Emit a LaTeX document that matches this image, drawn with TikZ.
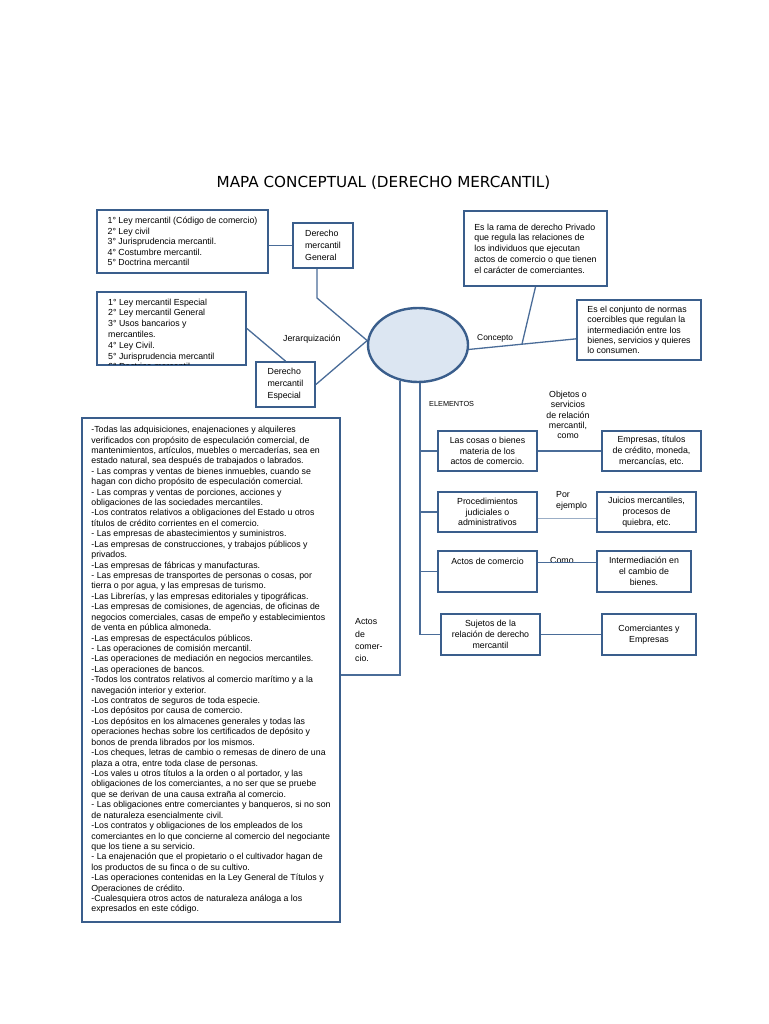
\documentclass[tikz,border=0pt]{standalone}
\usepackage{fontspec}
\setmainfont{Liberation Sans}
\newfontfamily\titulofont{DejaVu Sans}
\usepackage{color}
\usepackage{tikz}
\usetikzlibrary{shapes.geometric}

\definecolor{borde}{HTML}{3A5E8C}
\definecolor{linea}{HTML}{4A6C98}
\definecolor{relleno}{HTML}{DCE6F2}

\tikzset{
  caja/.style={draw=borde, line width=1.8pt, rectangle, fill=white, inner sep=0pt, font=\fontsize{8.8}{10.8}\selectfont},
  conector/.style={draw=linea, line width=1.3pt},
  etiqueta/.style={inner sep=0pt, font=\fontsize{8.8}{10.8}\selectfont}
}

\begin{document}
\begin{tikzpicture}[x=1pt, y=-1pt]
\useasboundingbox (0,0) rectangle (768,1024);

\node[anchor=base, font=\titulofont\fontsize{15.2}{18}\selectfont] (titulo) at (383.5,188) {MAPA CONCEPTUAL (DERECHO MERCANTIL)};

\node[caja, align=left, minimum width=171, minimum height=63, font=\fontsize{8.8}{10.6}\selectfont] (leyesgen) at (182.5,241.5) {1° Ley mercantil (Código de comercio)\\2° Ley civil\\3° Jurisprudencia mercantil.\\4° Costumbre mercantil.\\5° Doctrina mercantil};
\node[caja, align=left, minimum width=60, minimum height=45, font=\fontsize{8.8}{12}\selectfont] (dmgeneral) at (323,245.5) {Derecho\\mercantil\\General};

\node[caja, minimum width=149, minimum height=73] (leyesesp) at (171.5,328.5) {};
\begin{scope}
\clip (97.9,292.9) rectangle (245.1,364.1);
\node[etiqueta, anchor=north west, align=left] (leyesesptxt) at (108,298.5) {1° Ley mercantil Especial\\2° Ley mercantil General\\3° Usos bancarios y\\mercantiles.\\4° Ley Civil.\\5° Jurisprudencia mercantil\\6° Doctrina mercantil};
\end{scope}
\node[caja, align=left, minimum width=59, minimum height=45, font=\fontsize{8.8}{12}\selectfont] (dmespecial) at (285.5,384.5) {Derecho\\mercantil\\Especial};
\node[etiqueta, anchor=base west] (jerarquia) at (283,341) {Jerarquización};

\node[ellipse, draw=borde, line width=2.4pt, fill=relleno, minimum width=100, minimum height=74, inner sep=0pt] (elipse) at (418,345) {};

\node[caja, align=left, minimum width=143, minimum height=75] (concepto1) at (535.5,248.5) {Es la rama de derecho Privado\\que regula las relaciones de\\los individuos que ejecutan\\actos de comercio o que tienen\\el carácter de comerciantes.};
\node[caja, align=left, minimum width=124, minimum height=60, font=\fontsize{8.8}{10.2}\selectfont] (concepto2) at (639,330) {Es el conjunto de normas\\coercibles que regulan la\\intermediación entre los\\bienes, servicios y quieres\\lo consumen.};
\node[etiqueta, anchor=base west, font=\fontsize{8.4}{10}\selectfont] (concepto) at (477,340) {Concepto};

\node[caja, align=left, minimum width=258, minimum height=504, font=\fontsize{8.8}{10.42}\selectfont] (actos) at (211,670) {-Todas las adquisiciones, enajenaciones y alquileres\\verificados con propósito de especulación comercial, de\\mantenimientos, artículos, muebles o mercaderías, sea en\\estado natural, sea después de trabajados o labrados.\\- Las compras y ventas de bienes inmuebles, cuando se\\hagan con dicho propósito de especulación comercial.\\- Las compras y ventas de porciones, acciones y\\obligaciones de las sociedades mercantiles.\\-Los contratos relativos a obligaciones del Estado u otros\\títulos de crédito corrientes en el comercio.\\- Las empresas de abastecimientos y suministros.\\-Las empresas de construcciones, y trabajos públicos y\\privados.\\-Las empresas de fábricas y manufacturas.\\- Las empresas de transportes de personas o cosas, por\\tierra o por agua, y las empresas de turismo.\\-Las Librerías, y las empresas editoriales y tipográficas.\\-Las empresas de comisiones, de agencias, de oficinas de\\negocios comerciales, casas de empeño y establecimientos\\de venta en pública almoneda.\\-Las empresas de espectáculos públicos.\\- Las operaciones de comisión mercantil.\\-Las operaciones de mediación en negocios mercantiles.\\-Las operaciones de bancos.\\-Todos los contratos relativos al comercio marítimo y a la\\navegación interior y exterior.\\-Los contratos de seguros de toda especie.\\-Los depósitos por causa de comercio.\\-Los depósitos en los almacenes generales y todas las\\operaciones hechas sobre los certificados de depósito y\\bonos de prenda librados por los mismos.\\-Los cheques, letras de cambio o remesas de dinero de una\\plaza a otra, entre toda clase de personas.\\-Los vales u otros títulos a la orden o al portador, y las\\obligaciones de los comerciantes, a no ser que se pruebe\\que se derivan de una causa extraña al comercio.\\- Las obligaciones entre comerciantes y banqueros, si no son\\de naturaleza esencialmente civil.\\-Los contratos y obligaciones de los empleados de los\\comerciantes en lo que concierne al comercio del negociante\\que los tiene a su servicio.\\- La enajenación que el propietario o el cultivador hagan de\\los productos de su finca o de su cultivo.\\-Las operaciones contenidas en la Ley General de Títulos y\\Operaciones de crédito.\\-Cualesquiera otros actos de naturaleza análoga a los\\expresados en este código.};
\node[etiqueta, anchor=north west, align=left, font=\fontsize{8.8}{12.4}\selectfont] (actoslbl) at (355,618.5) {Actos\\de\\comer-\\cio.};

\node[etiqueta, anchor=base west, font=\fontsize{7.3}{9}\selectfont] (elementos) at (429,406.5) {ELEMENTOS};

% elementos
\node[caja, align=center, minimum width=99, minimum height=40] (cosas) at (487.5,451) {Las cosas o bienes\\materia de los\\actos de comercio.};
\node[caja, align=center, minimum width=99, minimum height=40] (proced) at (487.5,512) {Procedimientos\\judiciales o\\administrativos};
\node[caja, align=center, minimum width=99, text height=13.9, text depth=27.1] (actoscom) at (487.5,571.5) {Actos de comercio};
\node[caja, align=center, minimum width=99, minimum height=41] (sujetos) at (490.5,634.5) {Sujetos de la\\relación de derecho\\mercantil};

\node[caja, align=center, minimum width=99, minimum height=40] (empresas) at (651.5,451) {Empresas, títulos\\de crédito, moneda,\\mercancías, etc.};
\node[caja, align=center, minimum width=99, minimum height=40] (juicios) at (646.5,512) {Juicios mercantiles,\\procesos de\\quiebra, etc.};
\node[caja, align=center, minimum width=94, minimum height=41] (intermed) at (644,571.5) {Intermediación en\\el cambio de\\bienes.};
\node[caja, align=center, minimum width=94, minimum height=41] (comerciantes) at (649,634.5) {Comerciantes y\\Empresas};

\node[etiqueta, align=center, font=\fontsize{8.8}{10.2}\selectfont] (objetos) at (568,415) {Objetos o\\servicios\\de relación\\mercantil,\\como};
\node[etiqueta, anchor=north west, align=left, font=\fontsize{8.8}{11}\selectfont] (porejemplo) at (556,491.5) {Por\\ejemplo};
\node[etiqueta, anchor=base west] (como) at (550,563) {Como};

% conectores
\coordinate (codo) at (317,298);
\coordinate (cruce) at (522,344);
\coordinate (bajada) at (400,675);
\coordinate (tronco) at (420,630);

\draw[conector] (leyesgen.east |- dmgeneral.west) -- (dmgeneral.west);
\draw[conector] (codo |- dmgeneral.south) -- (codo) -- (elipse.175);
\draw[conector] (leyesesp.east) -- (dmespecial.north);
\draw[conector] (dmespecial.east) -- (elipse.175);
\draw[conector] (elipse.-5) -- (concepto2.188);
\draw[conector] (concepto1.south) -- (cruce);
\draw[conector] (bajada |- elipse.242) -- (bajada) -- (actos.east |- bajada);

\draw[conector] (tronco |- elipse.south) -- (tronco |- sujetos.west) -- (sujetos.west);
\draw[conector] (tronco |- cosas.west) -- (cosas.west);
\draw[conector] (tronco |- proced.west) -- (proced.west);
\draw[conector] (tronco |- actoscom.west) -- (actoscom.west);

\draw[conector] (cosas.east) -- (empresas.west);
\draw[conector, draw=linea!55] (proced.-7) -- (juicios.west |- proced.-7);
\draw[conector] (actoscom.10) -- (intermed.west |- actoscom.10);
\draw[conector] (sujetos.east) -- (comerciantes.west);
\end{tikzpicture}
\end{document}
